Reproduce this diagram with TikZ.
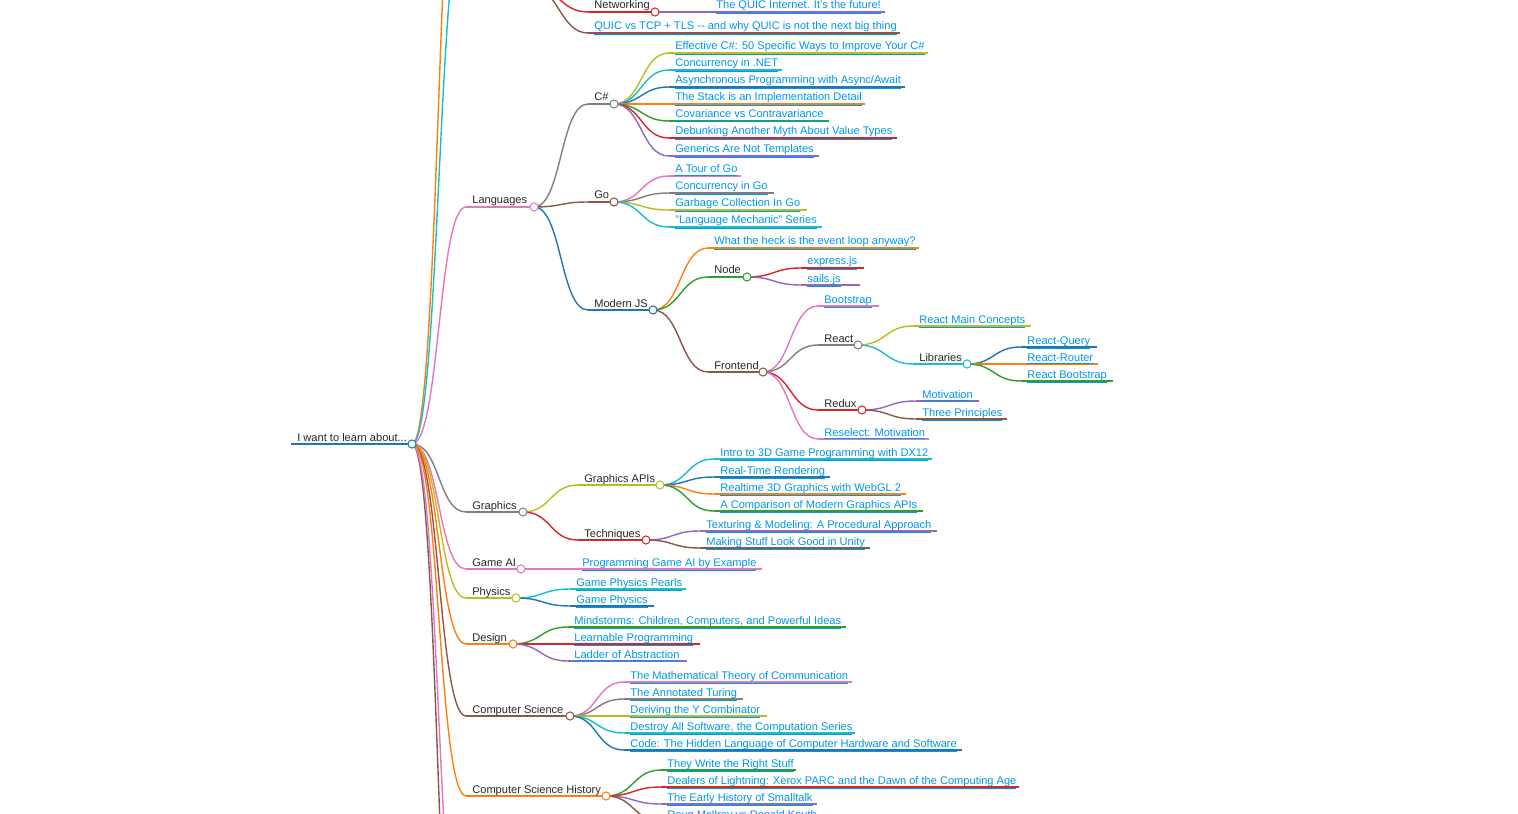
\documentclass[tikz,border=0pt]{standalone}
\usepackage{fontspec}
\setmainfont{Liberation Sans}
\usetikzlibrary{calc}
\definecolor{cBlue}{HTML}{1F77B4}
\definecolor{cOrange}{HTML}{FF7F0E}
\definecolor{cGreen}{HTML}{2CA02C}
\definecolor{cRed}{HTML}{D62728}
\definecolor{cPurple}{HTML}{9467BD}
\definecolor{cBrown}{HTML}{8C564B}
\definecolor{cPink}{HTML}{E377C2}
\definecolor{cGray}{HTML}{7F7F7F}
\definecolor{cOlive}{HTML}{BCBD22}
\definecolor{cCyan}{HTML}{17BECF}
\definecolor{linkblue}{HTML}{0097E6}
\tikzset{
  branch/.style={line width=0.8pt},
  label/.style={anchor=base west, inner sep=0pt, font=\fontsize{6.3}{7}\selectfont, text=black!85},
  link/.style={label, text=linkblue},
  knot/.style={draw=#1, fill=white, line width=0.6pt, circle, inner sep=0pt, minimum size=4.6pt},
}
% topic: name, left x, right x, line y, colour, text
\newcommand{\topic}[6]{%
  \coordinate (#1-l) at (#2,#4);
  \coordinate (#1) at (#3,#4);
  \draw[branch,#5] (#1-l) -- (#1);
  \node[label] (#1-t) at (#2+6,#4-3) {#6};}
\newcommand{\book}[6]{%
  \coordinate (#1-l) at (#2,#4);
  \coordinate (#1) at (#3,#4);
  \draw[branch,#5] (#1-l) -- (#1);
  \node[link] (#1-t) at (#2+6,#4-3) {\underline{#6}};}
\newcommand{\twig}[3]{\draw[branch,#3] (#1) .. controls ($(#1)+(28,0)$) and ($(#2-l)-(28,0)$) .. (#2-l);}
\newcommand{\knot}[2]{\node[knot=#2] at (#1) {};}
\begin{document}
\begin{tikzpicture}[x=0.02cm,y=-0.02cm]
\useasboundingbox (0,0) rectangle (1518,814);
\clip (0,0) rectangle (1518,814);
% root
\coordinate (root-l) at (291,444);
\coordinate (root) at (412,444);
\draw[cBlue,line width=1.7pt] (root-l) -- (root);
\node[label] (root-t) at (297,441) {I want to learn about...};
% hidden branches
\coordinate (up1-l) at (466,-260);
\coordinate (up2-l) at (466,-90);
\coordinate (dn1-l) at (466,1150);
\coordinate (dn2-l) at (466,1000);
\twig{root}{up1}{cOrange}
\twig{root}{up2}{cCyan}
\twig{root}{dn1}{cBrown}
\twig{root}{dn2}{cPink}
% Networking
\coordinate (web) at (530,-14);
\topic{net}{588}{655}{12}{cRed}{Networking}
\book{quic}{710}{885}{12}{cPurple}{The QUIC Internet. It's the future!}
\book{tcp}{588}{900}{33}{cBrown}{QUIC vs TCP + TLS -{}- and why QUIC is not the next big thing}
\twig{web}{net}{cRed}
\twig{web}{tcp}{cBrown}
\twig{net}{quic}{cPurple}
% Languages
\topic{lang}{466}{534}{207}{cPink}{Languages}
\topic{cs}{588}{614}{104}{cGray}{C\#}
\topic{go}{588}{614}{202}{cBrown}{Go}
\topic{js}{588}{653}{310}{cBlue}{Modern JS}
\twig{root}{lang}{cPink}
\twig{lang}{cs}{cGray}
\twig{lang}{go}{cBrown}
\twig{lang}{js}{cBlue}
\book{cs1}{669}{928}{53}{cOlive}{Effective C\#: 50 Specific Ways to Improve Your C\#}
\book{cs2}{669}{782}{70}{cCyan}{Concurrency in .NET}
\book{cs3}{669}{905}{87}{cBlue}{Asynchronous Programming with Async/Await}
\book{cs4}{669}{865}{104}{cOrange}{The Stack is an Implementation Detail}
\book{cs5}{669}{829}{121}{cGreen}{Covariance vs Contravariance}
\book{cs6}{669}{897}{138}{cRed}{Debunking Another Myth About Value Types}
\book{cs7}{669}{819}{156}{cPurple}{Generics Are Not Templates}
\foreach \n/\c in {cs1/cOlive,cs2/cCyan,cs3/cBlue,cs4/cOrange,cs5/cGreen,cs6/cRed,cs7/cPurple}
  {\twig{cs}{\n}{\c}}
\book{go1}{669}{741}{176}{cPink}{A Tour of Go}
\book{go2}{669}{774}{193}{cGray}{Concurrency in Go}
\book{go3}{669}{807}{210}{cOlive}{Garbage Collection In Go}
\book{go4}{669}{822}{227}{cCyan}{"Language Mechanic" Series}
\foreach \n/\c in {go1/cPink,go2/cGray,go3/cOlive,go4/cCyan}
  {\twig{go}{\n}{\c}}
% Modern JS
\book{loop}{708}{919}{248}{cOrange}{What the heck is the event loop anyway?}
\topic{node}{708}{747}{277}{cGreen}{Node}
\topic{front}{708}{763}{372}{cBrown}{Frontend}
\twig{js}{loop}{cOrange}
\twig{js}{node}{cGreen}
\twig{js}{front}{cBrown}
\book{exp}{801}{864}{268}{cRed}{express.js}
\book{sails}{801}{860}{285}{cPurple}{sails.js}
\twig{node}{exp}{cRed}
\twig{node}{sails}{cPurple}
\book{boot}{818}{879}{306}{cPink}{Bootstrap}
\topic{react}{818}{858}{345}{cGray}{React}
\topic{redux}{818}{862}{410}{cRed}{Redux}
\book{resel}{818}{929}{439}{cPink}{Reselect: Motivation}
\foreach \n/\c in {boot/cPink,react/cGray,redux/cRed,resel/cPink}
  {\twig{front}{\n}{\c}}
\book{rmc}{913}{1031}{326}{cOlive}{React Main Concepts}
\topic{libs}{913}{967}{364}{cCyan}{Libraries}
\twig{react}{rmc}{cOlive}
\twig{react}{libs}{cCyan}
\book{rq}{1021}{1097}{347}{cBlue}{React-Query}
\book{rr}{1021}{1098}{364}{cOrange}{React-Router}
\book{rb}{1021}{1113}{381}{cGreen}{React Bootstrap}
\foreach \n/\c in {rq/cBlue,rr/cOrange,rb/cGreen}
  {\twig{libs}{\n}{\c}}
\book{motiv}{916}{979}{401}{cPurple}{Motivation}
\book{three}{916}{1007}{419}{cBrown}{Three Principles}
\twig{redux}{motiv}{cPurple}
\twig{redux}{three}{cBrown}
% Graphics
\topic{gfx}{466}{523}{512}{cGray}{Graphics}
\topic{api}{578}{660}{485}{cOlive}{Graphics APIs}
\topic{tech}{578}{646}{540}{cRed}{Techniques}
\twig{root}{gfx}{cGray}
\twig{gfx}{api}{cOlive}
\twig{gfx}{tech}{cRed}
\book{dx}{714}{932}{459}{cCyan}{Intro to 3D Game Programming with DX12}
\book{rtr}{714}{830}{477}{cBlue}{Real-Time Rendering}
\book{webgl}{714}{906}{494}{cOrange}{Realtime 3D Graphics with WebGL 2}
\book{cmp}{714}{923}{511}{cGreen}{A Comparison of Modern Graphics APIs}
\foreach \n/\c in {dx/cCyan,rtr/cBlue,webgl/cOrange,cmp/cGreen}
  {\twig{api}{\n}{\c}}
\book{tex}{700}{937}{531}{cPurple}{Texturing \& Modeling: A Procedural Approach}
\book{unity}{700}{870}{548}{cBrown}{Making Stuff Look Good in Unity}
\twig{tech}{tex}{cPurple}
\twig{tech}{unity}{cBrown}
% Game AI, Physics, Design
\topic{ai}{466}{521}{569}{cPink}{Game AI}
\book{pgai}{576}{762}{569}{cPink}{Programming Game AI by Example}
\twig{root}{ai}{cPink}
\twig{ai}{pgai}{cPink}
\topic{phys}{466}{516}{598}{cOlive}{Physics}
\book{gpp}{570}{686}{589}{cCyan}{Game Physics Pearls}
\book{gp}{570}{654}{606}{cBlue}{Game Physics}
\twig{root}{phys}{cOlive}
\twig{phys}{gpp}{cCyan}
\twig{phys}{gp}{cBlue}
\topic{design}{466}{513}{644}{cOrange}{Design}
\book{mind}{568}{846}{627}{cGreen}{Mindstorms: Children, Computers, and Powerful Ideas}
\book{learn}{568}{700}{644}{cRed}{Learnable Programming}
\book{ladder}{568}{687}{661}{cPurple}{Ladder of Abstraction}
\twig{root}{design}{cOrange}
\foreach \n/\c in {mind/cGreen,learn/cRed,ladder/cPurple}
  {\twig{design}{\n}{\c}}
% Computer Science
\topic{comp}{466}{570}{716}{cBrown}{Computer Science}
\twig{root}{comp}{cBrown}
\book{math}{624}{852}{682}{cPink}{The Mathematical Theory of Communication}
\book{turing}{624}{743}{699}{cGray}{The Annotated Turing}
\book{ycomb}{624}{767}{716}{cOlive}{Deriving the Y Combinator}
\book{das}{624}{855}{733}{cCyan}{Destroy All Software, the Computation Series}
\book{code}{624}{962}{750}{cBlue}{Code: The Hidden Language of Computer Hardware and Software}
\foreach \n/\c in {math/cPink,turing/cGray,ycomb/cOlive,das/cCyan,code/cBlue}
  {\twig{comp}{\n}{\c}}
\topic{hist}{466}{606}{796}{cOrange}{Computer Science History}
\twig{root}{hist}{cOrange}
\book{right}{661}{796}{770}{cGreen}{They Write the Right Stuff}
\book{parc}{661}{1019}{787}{cRed}{Dealers of Lightning: Xerox PARC and the Dawn of the Computing Age}
\book{small}{661}{817}{804}{cPurple}{The Early History of Smalltalk}
\book{knuth}{661}{822}{821}{cBrown}{Doug McIlroy vs Donald Knuth}
\foreach \n/\c in {right/cGreen,parc/cRed,small/cPurple,knuth/cBrown}
  {\twig{hist}{\n}{\c}}
% knots
\foreach \k/\c in {root/cBlue,net/cRed,lang/cPink,cs/cGray,go/cBrown,js/cBlue,node/cGreen,
  front/cBrown,react/cGray,libs/cCyan,redux/cRed,gfx/cGray,api/cOlive,tech/cRed,ai/cPink,
  phys/cOlive,design/cOrange,comp/cBrown,hist/cOrange}
  {\knot{\k}{\c}}
\end{tikzpicture}
\end{document}
